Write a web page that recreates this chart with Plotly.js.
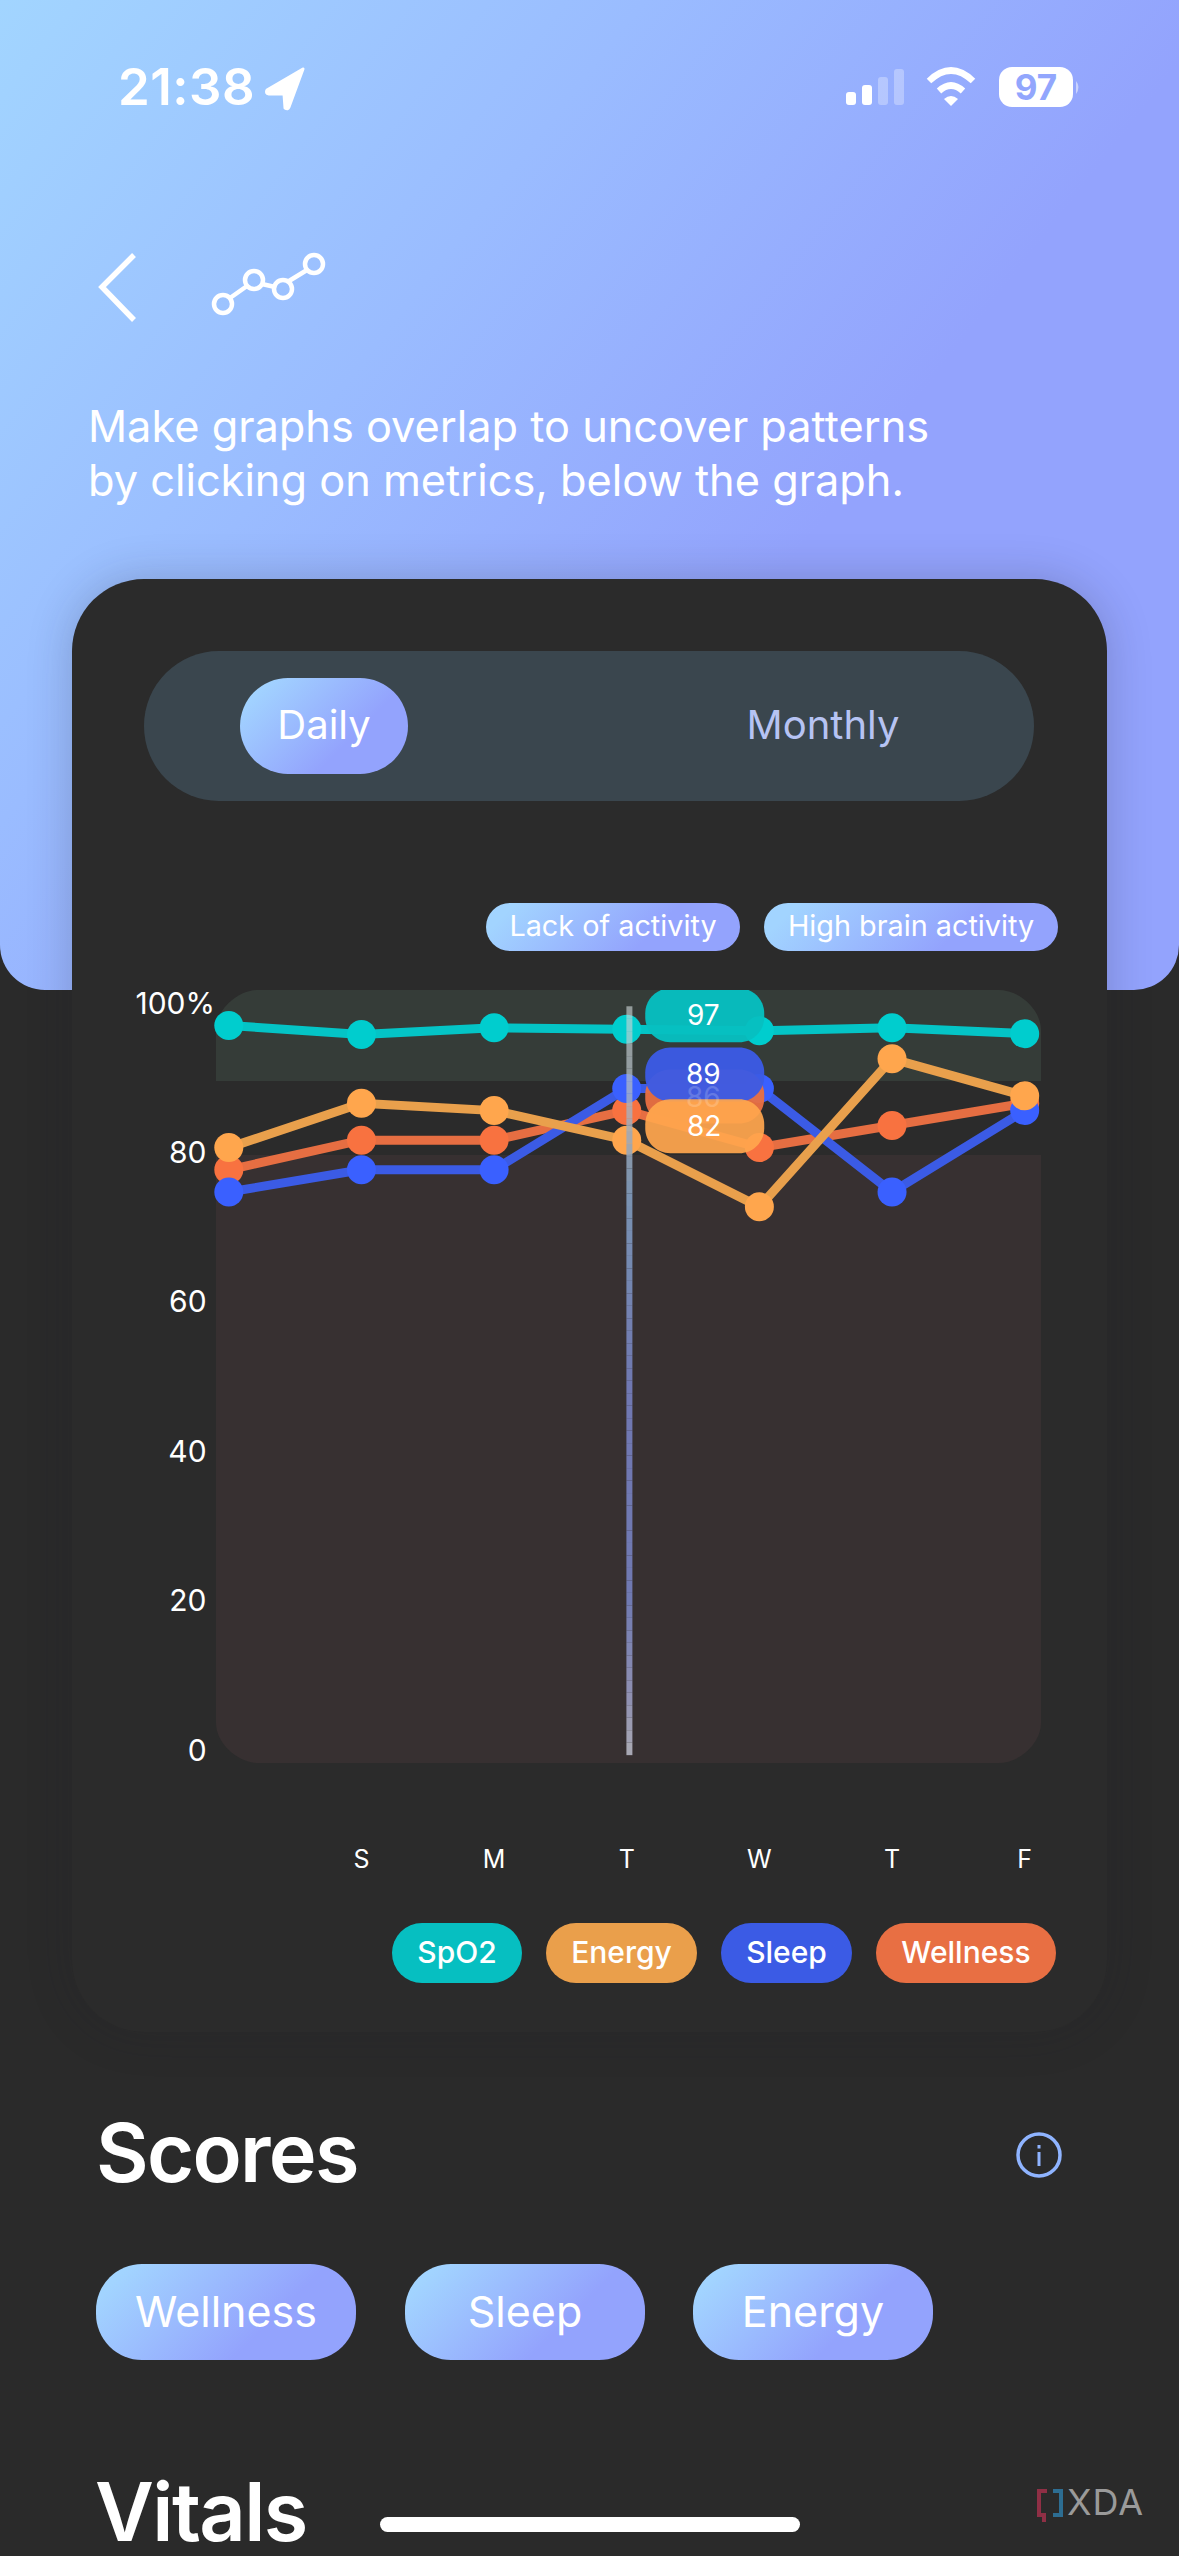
<!DOCTYPE html>
<html>
<head>
<meta charset="utf-8">
<script src="https://cdn.plot.ly/plotly-3.0.1.min.js"></script>
<style>
html,body{margin:0;padding:0;background:#2a2a2a;width:1179px;height:2556px;overflow:hidden;font-family:Inter,"Noto Sans",sans-serif;color:#fff}
.a{position:absolute}
.t{position:absolute;white-space:nowrap;transform:translate(-50%,-50%)}
.grad{background:linear-gradient(135deg,#a2d4ff 10%,#93a3fd 65%)}
.pill{position:absolute;display:flex;align-items:center;justify-content:center;white-space:nowrap;color:#fff}
#header{left:0;top:0;width:1179px;height:990px;border-radius:0 0 45px 45px;background:linear-gradient(128deg,#a2d5ff 0%,#9abcff 33%,#93a3fd 63%,#93a3fd 100%)}
#card{left:72px;top:579px;width:1035px;height:1453px;border-radius:72px;background:#2b2b2b;box-shadow:0 0 45px rgba(30,30,40,.22)}
#chart{position:absolute;left:0;top:0;width:1179px;height:2556px}
</style>
</head>
<body>
<div class="a" id="header"></div>
<div class="a" id="card"></div>

<div class="a" style="left:118px;top:56px;font-size:51px;font-weight:600;line-height:62px;letter-spacing:.5px">21:38</div>
<svg class="a" style="left:0;top:0" width="1179" height="340">
  <path d="M303 69 L267 90 Q265 93 269 94 L284 94 L285 108 Q288 110 289 107 Z" fill="#fff" stroke="#fff" stroke-width="3" stroke-linejoin="round"/>
  <rect x="846" y="92" width="10" height="13" rx="3" fill="#fff"/>
  <rect x="862" y="85" width="10" height="20" rx="3" fill="#fff"/>
  <rect x="878" y="77" width="10" height="28" rx="3" fill="#fff" opacity=".3"/>
  <rect x="894" y="69" width="10" height="36" rx="3" fill="#fff" opacity=".3"/>
  <path d="M929 81 Q951 60 973 81 M939 91 Q951 80 963 91" fill="none" stroke="#fff" stroke-width="6.5"/>
  <path d="M944 99 Q951 93 958 99 L951 106 Z" fill="#fff"/>
  <rect x="999" y="67" width="74" height="40" rx="13" fill="#fff"/>
  <path d="M1076 81 Q1081 87 1076 94 Z" fill="#fff" opacity=".5"/>
  <path d="M134 255 L102 287 L134 320" fill="none" stroke="#fff" stroke-width="5.5" stroke-linejoin="miter"/>
  <g fill="none" stroke="#fff" stroke-width="4.5">
    <path d="M230 298 L247 286 M262 284 L275 287 M289 281 L307 270"/>
    <circle cx="223" cy="304" r="9"/><circle cx="254" cy="280" r="9"/><circle cx="283" cy="289" r="9"/><circle cx="314" cy="264" r="9"/>
  </g>
</svg>
<div class="t" style="left:1036px;top:87px;font-size:35px;font-weight:700;color:#92a6fd">97</div>
<div class="a" style="left:88px;top:399px;font-size:43.3px;line-height:54px;color:#fff">Make graphs overlap to uncover patterns<br>by clicking on metrics, below the graph.</div>

<div class="a" style="left:144px;top:651px;width:890px;height:150px;border-radius:75px;background:#3a464e"></div>
<div class="pill grad" style="left:240px;top:678px;width:168px;height:96px;border-radius:48px;font-size:40px;padding-bottom:3px;box-sizing:border-box">Daily</div>
<div class="t" style="left:823px;top:724px;font-size:40px;color:#b6c3f3">Monthly</div>

<div class="pill grad" style="left:486px;top:903px;width:254px;height:48px;border-radius:24px;font-size:28.8px;padding-bottom:4px;box-sizing:border-box">Lack of activity</div>
<div class="pill grad" style="left:764px;top:903px;width:294px;height:48px;border-radius:24px;font-size:28.8px;padding-bottom:4px;box-sizing:border-box">High brain activity</div>

<div id="chart"></div>

<div id="legend"></div>

<div class="a" style="left:96px;top:2103px;font-size:81px;font-weight:600;line-height:100px;letter-spacing:-1.7px">Scores</div>
<svg class="a" style="left:1010px;top:2126px" width="58" height="58">
  <circle cx="29" cy="29" r="21" fill="none" stroke="#8fb4ff" stroke-width="3.5"/>
  <rect x="27.5" y="26" width="3" height="14" fill="#8fb4ff"/><rect x="27.5" y="19" width="3" height="3.5" fill="#8fb4ff"/>
</svg>
<div class="pill grad" style="left:96px;top:2264px;width:260px;height:96px;border-radius:46px;font-size:43px;padding-bottom:2px;box-sizing:border-box">Wellness</div>
<div class="pill grad" style="left:405px;top:2264px;width:240px;height:96px;border-radius:46px;font-size:43px;padding-bottom:2px;box-sizing:border-box">Sleep</div>
<div class="pill grad" style="left:693px;top:2264px;width:240px;height:96px;border-radius:46px;font-size:43px;padding-bottom:2px;box-sizing:border-box">Energy</div>
<div class="a" style="left:95px;top:2462px;font-size:81px;font-weight:600;line-height:100px;letter-spacing:-1.6px">Vitals</div>
<div class="a" style="left:380px;top:2517px;width:420px;height:15px;border-radius:8px;background:#fff"></div>

<svg class="a" style="left:1035px;top:2486px" width="34" height="40">
  <path d="M12 5 L4 5 L4 29 L9 29 L9 36" fill="none" stroke="#8f2f45" stroke-width="4"/>
  <path d="M18 5 L26 5 L26 29 L18 29" fill="none" stroke="#2d6d92" stroke-width="4"/>
</svg>
<div class="a" style="left:1067px;top:2484px;font-size:36px;line-height:36px;color:#9a9a9a;letter-spacing:1px">XDA</div>

<script>
// ---- data ----
const days = ['', 'S', 'M', 'T', 'W', 'T', 'F'];
const dayIndex = [0, 1, 2, 3, 4, 5, 6];
const yTicks = [0, 20, 40, 60, 80, 100];
const yLabels = ['0\u00A0', '20\u00A0', '40\u00A0', '60\u00A0', '80\u00A0', '100%'];
const spo2 = [97.5, 96.3, 97.2, 97, 96.8, 97.2, 96.4];
const energy = [81, 87, 86, 82, 73, 93, 88];
const sleep = [75, 78, 78, 89, 89, 75, 86];
const wellness = [78, 82, 82, 86, 81, 84, 87];
const selectedDay = 3;
const selectedValues = {spo2: 97, sleep: 89, wellness: 86, energy: 82};
const bandGood = [90, 102.3];
const bandLow = [-2.16, 80];

// ---- chart ----
const C = {
  spo2: {line: '#04c4c6', mark: '#00cdce', pill: '#06bfc1'},
  energy: {line: '#e9a04c', mark: '#ffa64d', pill: '#ffa64d'},
  sleep: {line: '#3b5be5', mark: '#3a60ff', pill: '#3b5be5'},
  wellness: {line: '#e66e42', mark: '#f87240', pill: '#e86f43'}
};
const tr = (name, y, c) => ({
  type: 'scatter', mode: 'lines+markers', name, x: dayIndex, y, cliponaxis: false, hoverinfo: 'skip',
  line: {color: c.line, width: 9}, marker: {color: c.mark, size: 29, line: {width: 0}}
});
const traces = [
  tr('Wellness', wellness, C.wellness),
  tr('Sleep', sleep, C.sleep),
  tr('Energy', energy, C.energy),
  tr('SpO2', spo2, C.spo2),
  // carries the printed y scale, which sits slightly off the plotted scale in the reference
  {type: 'scatter', mode: 'markers', x: [0], y: [0], yaxis: 'y2', marker: {opacity: 0}, hoverinfo: 'skip', showlegend: false}
];

const xL = -0.0965, xR = 6.123;
function topBand(y0, y1) {
  const rx = .32, ry = 5.4;
  return `M${xL} ${y0} L${xL} ${y1 - ry} C${xL} ${y1 - ry / 2} ${xL + rx / 2} ${y1} ${xL + rx} ${y1} L${xR - rx} ${y1} C${xR - rx / 2} ${y1} ${xR} ${y1 - ry / 2} ${xR} ${y1 - ry} L${xR} ${y0} Z`;
}
function bottomBand(y0, y1) {
  const rx = .32, ry = 5.4;
  return `M${xL} ${y1} L${xL} ${y0 + ry} C${xL} ${y0 + ry / 2} ${xL + rx / 2} ${y0} ${xL + rx} ${y0} L${xR - rx} ${y0} C${xR - rx / 2} ${y0} ${xR} ${y0 + ry / 2} ${xR} ${y0 + ry} L${xR} ${y1} Z`;
}
function pillPath(cx, cy, hw, hh, r) {
  const k = r * .45, l = cx - hw, R = cx + hw, b = cy - hh, t = cy + hh;
  return `M${l + r} ${b} L${R - r} ${b} C${R - k} ${b} ${R} ${b + k} ${R} ${b + r} L${R} ${t - r} C${R} ${t - k} ${R - k} ${t} ${R - r} ${t} L${l + r} ${t} C${l + k} ${t} ${l} ${t - k} ${l} ${t - r} L${l} ${b + r} C${l} ${b + k} ${l + k} ${b} ${l + r} ${b} Z`;
}

const shapes = [
  {type: 'path', layer: 'below', xref: 'x', yref: 'y', path: topBand(bandGood[0], bandGood[1]), fillcolor: '#353c38', line: {width: 0}},
  {type: 'path', layer: 'below', xref: 'x', yref: 'y', path: bottomBand(bandLow[0], bandLow[1]), fillcolor: '#373031', line: {width: 0}}
];

// the cursor line with its colour fade
const fade = [[0, [205, 215, 215, .62]], [.12, [170, 180, 190, .8]], [.25, [125, 152, 185, .95]], [.5, [112, 120, 178, 1]], [.78, [112, 122, 178, 1]], [.92, [145, 146, 178, 1]], [1, [173, 173, 180, 1]]];
function fadeAt(f) {
  let i = 0; while (i < fade.length - 2 && f > fade[i + 1][0]) i++;
  const a = fade[i], b = fade[i + 1], m = (f - a[0]) / (b[0] - a[0]);
  const c = a[1].map((v, j) => v + (b[1][j] - v) * m);
  return `rgba(${c[0] | 0},${c[1] | 0},${c[2] | 0},${c[3]})`;
}
const lineTop = 100.1, lineBottom = -1.1, steps = 60;
for (let i = 0; i < steps; i++) {
  shapes.push({type: 'line', layer: 'above', xref: 'x', yref: 'y', x0: selectedDay + .02, x1: selectedDay + .02,
    y0: lineTop + (lineBottom - lineTop) * i / steps, y1: lineTop + (lineBottom - lineTop) * (i + 1) / steps,
    line: {color: fadeAt(i / steps), width: 6}});
}

// the value pills beside the cursor, anchored on the selected day's values
const order = ['spo2', 'wellness', 'sleep', 'energy'];
const annotations = [];
order.forEach(k => {
  shapes.push({type: 'path', layer: 'above', xref: 'x', yref: 'y', xsizemode: 'pixel', ysizemode: 'pixel',
    xanchor: selectedDay, yanchor: selectedValues[k], path: pillPath(78, 14, 59.5, 27, 25),
    fillcolor: C[k].pill, opacity: k === 'energy' ? .93 : .96, line: {width: 0}});
  annotations.push({xref: 'x', yref: 'y', x: selectedDay, y: selectedValues[k], xshift: 77, yshift: 14, showarrow: false,
    text: String(selectedValues[k]), opacity: k === 'wellness' ? .18 : 1, font: {family: 'Inter', size: 28, color: '#fff'}});
});

const layout = {
  width: 1179, height: 2556, autosize: false, showlegend: false,
  paper_bgcolor: 'rgba(0,0,0,0)', plot_bgcolor: 'rgba(0,0,0,0)',
  margin: {l: 216, r: 1179 - 1040.7, t: 990, b: 2556 - 1763, pad: 0},
  font: {family: 'Inter', color: '#fff', size: 28},
  xaxis: {range: [xL, xR], tickmode: 'array', tickvals: dayIndex, ticktext: days, showgrid: false, zeroline: false, showline: false,
    ticks: '', ticklabelstandoff: 79, tickfont: {family: 'Inter', size: 25, color: '#fff'}, fixedrange: true},
  yaxis: {range: [-2.16, 102.3], showticklabels: false, showgrid: false, zeroline: false, showline: false, ticks: '', fixedrange: true},
  yaxis2: {range: [-1.74, 101.74], overlaying: 'y', side: 'left', tickmode: 'array', tickvals: yTicks, ticktext: yLabels,
    showgrid: false, zeroline: false, showline: false, ticks: '', ticklabelstandoff: 0,
    tickfont: {family: 'Inter', size: 30, color: '#fff'}, fixedrange: true},
  shapes, annotations
};
Plotly.newPlot('chart', traces, layout, {displayModeBar: false, staticPlot: true});

// ---- legend pills ----
const legendItems = [['SpO2', 392, 130, 'spo2'], ['Energy', 546, 151, 'energy'], ['Sleep', 721, 131, 'sleep'], ['Wellness', 876, 180, 'wellness']];
const legendColors = {spo2: '#06bfc1', energy: '#ea9f4b', sleep: '#3b5be5', wellness: '#e86f43'};
document.getElementById('legend').innerHTML = legendItems.map(([n, l, w, k]) =>
  `<div class="pill" style="left:${l}px;top:1923px;width:${w}px;height:60px;border-radius:30px;background:${legendColors[k]};font-size:30px;font-weight:500;padding-bottom:3px;box-sizing:border-box">${n}</div>`).join('');
</script>
</body>
</html>
